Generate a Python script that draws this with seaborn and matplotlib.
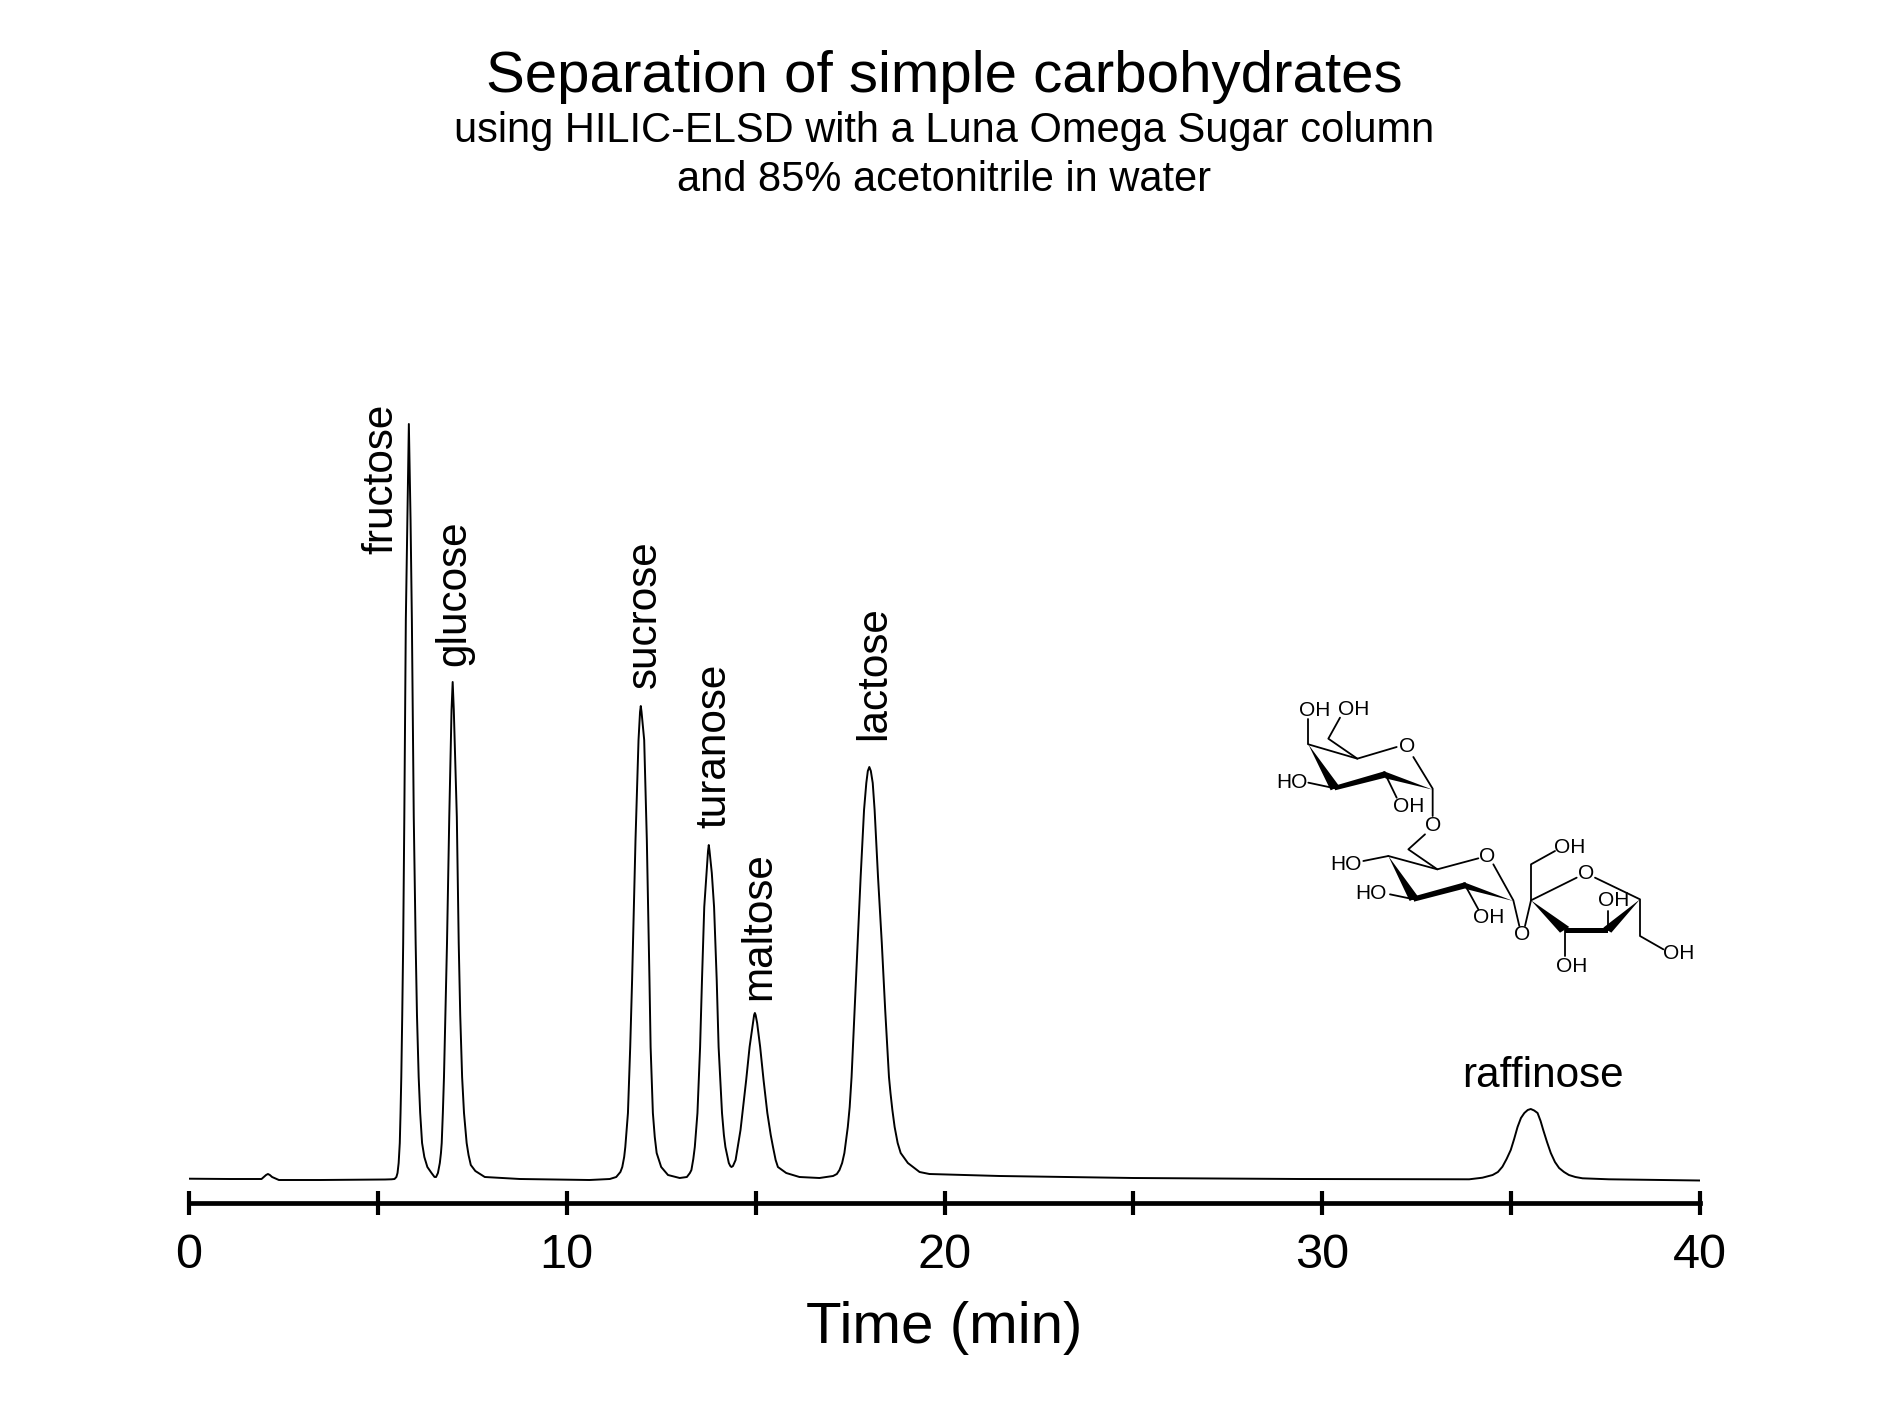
"""Separation of simple carbohydrates: HILIC-ELSD chromatogram with raffinose structure."""

import matplotlib.pyplot as plt
import matplotlib.ticker as mticker
import pandas as pd
import seaborn as sns

# Trace, one row per stretch of the run
time_min = [
    0, 1.08, 1.92, 1.98, 2.04, 2.09, 2.14, 2.20, 2.38, 3.47, 5.19, 5.36,
    5.44, 5.49, 5.52, 5.55, 5.58, 5.60, 5.62, 5.645, 5.67, 5.70, 5.74, 5.78, 5.805, 5.82, 5.835, 5.865,
    5.90, 5.95, 6.00, 6.035, 6.08, 6.12, 6.17, 6.23, 6.31, 6.42, 6.50, 6.54,
    6.59, 6.64, 6.67, 6.69, 6.72, 6.75, 6.79, 6.83, 6.89, 6.95, 6.98, 7.01,
    7.09, 7.14, 7.18, 7.23, 7.28, 7.35, 7.40, 7.46, 7.58, 7.83, 8.76, 10.6, 11.14,
    11.31, 11.42, 11.47, 11.52, 11.55, 11.62, 11.68, 11.73, 11.82, 11.90, 11.94, 11.96, 11.98,
    12.05, 12.12, 12.19, 12.22, 12.28, 12.33, 12.38, 12.50, 12.68, 12.99,
    13.18, 13.26, 13.30, 13.35, 13.39, 13.46, 13.53, 13.58, 13.64, 13.70, 13.74, 13.76, 13.78,
    13.84, 13.90, 13.97, 14.02, 14.11, 14.16, 14.20, 14.29, 14.33, 14.36, 14.40, 14.47, 14.60,
    14.75, 14.84, 14.93, 14.96, 14.98, 15.00, 15.04, 15.12, 15.21, 15.31, 15.40, 15.46, 15.53, 15.59,
    15.81, 16.16, 16.69, 17.05,
    17.15, 17.22, 17.29, 17.35, 17.44, 17.49, 17.54, 17.62, 17.70, 17.78, 17.87, 17.93, 17.97, 18.01,
    18.05, 18.10, 18.15, 18.24, 18.34, 18.43, 18.53, 18.57, 18.62, 18.68, 18.76, 18.84, 19.03, 19.34,
    19.60, 21.46, 25, 29.4, 33.89,
    34.24, 34.51, 34.65, 34.77, 34.88, 34.99, 35.08, 35.17, 35.26, 35.35, 35.44, 35.52,
    35.61, 35.70, 35.78, 35.85, 35.95, 36.05, 36.16, 36.27, 36.40, 36.53, 36.70, 36.89, 37.59, 40,
]
signal = [
    26.3, 26, 26, 28, 30, 31, 30, 28, 25, 25, 25.5, 25.7,
    26, 28, 32, 42, 62, 92, 128, 190, 262, 388, 585, 685, 750, 781, 750, 685,
    585, 388, 262, 190, 128, 92, 62, 48, 38, 32, 28, 28,
    32, 42, 52, 62, 92, 128, 195, 262, 388, 495, 523, 495,
    388, 262, 190, 128, 92, 62, 50, 40, 34, 28, 26, 25, 26,
    28, 33, 38, 48, 58, 92, 158, 225, 365, 465, 493, 499, 493,
    465, 365, 225, 158, 92, 68, 52, 38, 30, 27,
    28, 32, 35, 46, 58, 92, 158, 225, 298, 332, 354, 360, 354,
    332, 298, 225, 158, 92, 70, 58, 42, 39, 38, 39, 45, 75,
    125, 158, 182, 190, 192, 190, 182, 158, 125, 92, 70, 58, 45, 38,
    32, 28, 27, 29,
    31, 35, 42, 52, 78, 98, 128, 195, 262, 328, 395, 422, 434, 438,
    434, 422, 395, 328, 262, 195, 128, 112, 95, 78, 62, 52, 42, 33,
    31, 29, 27, 26, 25.7,
    27.3, 30, 33, 38.3, 46, 55, 66, 78, 87, 92, 95, 96,
    94.5, 92, 84, 75, 63, 52, 43, 37, 33, 30, 28, 26.7, 25.7, 24.5,
]

# Peak labels: name, time, signal at text foot, rotation
peak_names = ["fructose", "glucose", "sucrose", "turanose", "maltose", "lactose", "raffinose"]
peak_times = [5.08, 7.03, 12.06, 13.90, 15.09, 18.13, 35.83]
peak_heights = [651, 539, 517, 377, 205, 465, 118]
peak_rotation = [90, 90, 90, 90, 90, 90, 0]

# Raffinose drawing, in its own crop units (thin bonds, tapered bonds, atom labels)
thin_bonds = [
    [(205, 190), (352, 233), (470, 198)], [(520, 228), (578, 323), (578, 405)],
    [(352, 233), (265, 173), (300, 110)], [(205, 190), (205, 115)], [(285, 322), (205, 305)],
    [(436, 280), (470, 350)], [(555, 460), (505, 505), (592, 565)], [(445, 525), (592, 565), (715, 532)],
    [(760, 550), (820, 658), (838, 735)], [(445, 525), (370, 540)], [(522, 655), (450, 640)],
    [(675, 612), (715, 685)], [(855, 735), (873, 658)], [(873, 658), (873, 550), (945, 510)],
    [(873, 658), (1010, 590)], [(1065, 590), (1200, 655), (1200, 765), (1270, 805)],
    [(975, 748), (975, 825)], [(1105, 748), (1105, 690)],
]
bold_bonds = [
    [(205, 190), (272, 328), (298, 316)], [(285, 328), (436, 290), (436, 270), (285, 314)],
    [(430, 270), (436, 292), (578, 326)], [(445, 525), (509, 660), (535, 648)],
    [(522, 662), (677, 622), (677, 603), (522, 646)], [(670, 603), (677, 624), (820, 660)],
    [(873, 658), (960, 755), (988, 738)], [(975, 740), (1105, 740), (1105, 755), (975, 755)],
    [(1090, 740), (1114, 755), (1200, 655)],
]
atom_labels = [
    "OH", "OH", "O", "HO", "OH", "O", "O", "HO", "HO", "OH", "O", "OH", "O", "OH", "OH", "OH",
]
atom_x = [225, 340, 500, 155, 505, 578, 740, 318, 392, 745, 845, 988, 1037, 1122, 995, 1315]
atom_y = [87, 85, 195, 305, 378, 433, 527, 552, 637, 710, 762, 500, 577, 658, 855, 818]

title_lines = [
    "Separation of simple carbohydrates",
    "using HILIC-ELSD with a Luna Omega Sugar column",
    "and 85% acetonitrile in water",
]

sns.set_theme(style="white")
plt.rcParams["font.family"] = ["Liberation Sans", "DejaVu Sans"]
plt.rcParams["text.color"] = "black"

W, H = 1889, 1417
fig = plt.figure(figsize=(W / 100, H / 100), dpi=100, facecolor="white")
ax = fig.add_axes([189 / W, 1 - 1203 / H, (1700 - 189) / W, 838 / H])

trace = pd.DataFrame({"time": time_min, "signal": signal})
sns.lineplot(data=trace, x="time", y="signal", color="black", linewidth=1.4,
             estimator=None, errorbar=None, ax=ax)

ax.set_xlim(0, 40)
ax.set_ylim(2, 840)
ax.patch.set_alpha(0)
sns.despine(ax=ax, left=True)
ax.spines["bottom"].set_linewidth(3.4)
ax.spines["bottom"].set_color("black")
ax.set_yticks([])
ax.set_ylabel("")
ax.xaxis.set_major_locator(mticker.MultipleLocator(10))
ax.xaxis.set_minor_locator(mticker.MultipleLocator(5))
ax.tick_params(axis="x", which="both", direction="inout", length=17, width=3, color="black", bottom=True)
ax.tick_params(axis="x", which="major", labelsize=35, pad=13, labelcolor="black")
ax.set_xlabel("Time (min)", fontsize=42, labelpad=17, color="black")

for name, t, h, rot in zip(peak_names, peak_times, peak_heights, peak_rotation):
    ax.text(t, h, name, fontsize=30.4, rotation=rot, ha="center", va="baseline" if rot == 0 else "bottom",
            color="black")

fig.text(944.5 / W, 1 - 77 / H, title_lines[0], fontsize=41.95, ha="center", va="center")
fig.text(944.5 / W, 1 - 131 / H, title_lines[1], fontsize=30, ha="center", va="center")
fig.text(944.5 / W, 1 - 180 / H, title_lines[2], fontsize=30, ha="center", va="center")

# Structure inset
mol = fig.add_axes([1240 / W, 1 - 1001 / H, 480 / W, 320 / H])
mol.set_xlim(0, 1440)
mol.set_ylim(960, 0)
mol.axis("off")
for bond in thin_bonds:
    xs, ys = zip(*bond)
    mol.plot(xs, ys, color="black", linewidth=1.3, solid_joinstyle="round")
for bond in bold_bonds:
    xs, ys = zip(*bond)
    mol.fill(xs, ys, color="black", linewidth=0)
for label, x, y in zip(atom_labels, atom_x, atom_y):
    mol.text(x, y, label, fontsize=15, ha="center", va="center", color="black")

fig.savefig("out.png", dpi=100, facecolor="white")
